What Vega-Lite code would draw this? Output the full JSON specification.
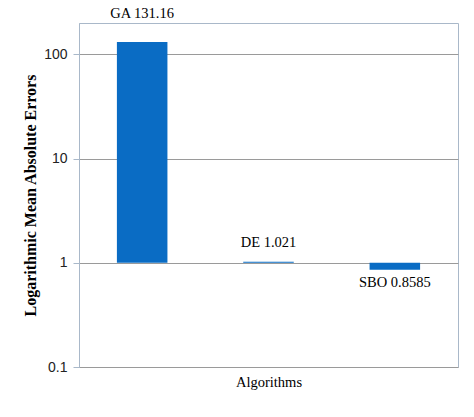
{
  "$schema": "https://vega.github.io/schema/vega-lite/v6.json",
  "width": 379,
  "height": 344,
  "autosize": "none",
  "padding": {"left": 79, "top": 23, "right": 16, "bottom": 50},
  "background": "#ffffff",
  "config": {
    "view": {"stroke": "#a9b8c9", "strokeWidth": 1},
    "axis": {"labelFont": "Liberation Sans", "titleFont": "Liberation Serif"},
    "text": {"font": "Liberation Serif"}
  },
  "data": {
    "values": [
      {"algorithm": "GA", "error": 131.16, "label": "GA 131.16"},
      {"algorithm": "DE", "error": 1.021, "label": "DE 1.021"},
      {"algorithm": "SBO", "error": 0.8585, "label": "SBO 0.8585"}
    ]
  },
  "encoding": {
    "x": {
      "field": "algorithm",
      "type": "nominal",
      "sort": ["GA", "DE", "SBO"],
      "scale": {"paddingInner": 0.6, "paddingOuter": 0.3},
      "axis": {
        "title": "Algorithms",
        "labels": false,
        "ticks": false,
        "domain": false,
        "titleFont": "Liberation Serif",
        "titleFontSize": 14.5,
        "titleFontWeight": "normal",
        "titleColor": "#000000",
        "titlePadding": 8
      }
    }
  },
  "layer": [
    {
      "mark": {"type": "bar", "color": "#0a6cc4"},
      "encoding": {
        "y": {
          "field": "error",
          "type": "quantitative",
          "scale": {"type": "log", "domain": [0.1, 200], "nice": false},
          "axis": {
            "title": "Logarithmic Mean Absolute Errors",
            "values": [0.1, 1, 10, 100],
            "format": "~g",
            "labelFontSize": 14,
            "labelColor": "#222222",
            "labelPadding": 6,
            "tickSize": 6,
            "tickColor": "#a9b8c9",
            "domainColor": "#a9b8c9",
            "gridColor": "#9a9a9a",
            "titleFont": "Liberation Serif",
            "titleFontSize": 16,
            "titleFontWeight": "bold",
            "titleColor": "#000000",
            "titlePadding": 5
          }
        },
        "y2": {"datum": 1}
      }
    },
    {
      "transform": [{"filter": "datum.algorithm == 'GA'"}],
      "mark": {"type": "text", "font": "Liberation Serif", "fontSize": 14.5, "baseline": "bottom", "dy": -21, "color": "#000000"},
      "encoding": {"y": {"field": "error", "type": "quantitative"}, "text": {"field": "label"}}
    },
    {
      "transform": [{"filter": "datum.algorithm == 'DE'"}],
      "mark": {"type": "text", "font": "Liberation Serif", "fontSize": 14.5, "baseline": "bottom", "dy": -12, "color": "#000000"},
      "encoding": {"y": {"field": "error", "type": "quantitative"}, "text": {"field": "label"}}
    },
    {
      "transform": [{"filter": "datum.algorithm == 'SBO'"}],
      "mark": {"type": "text", "font": "Liberation Serif", "fontSize": 14.5, "baseline": "top", "dy": 6, "color": "#000000"},
      "encoding": {"y": {"field": "error", "type": "quantitative"}, "text": {"field": "label"}}
    }
  ]
}
